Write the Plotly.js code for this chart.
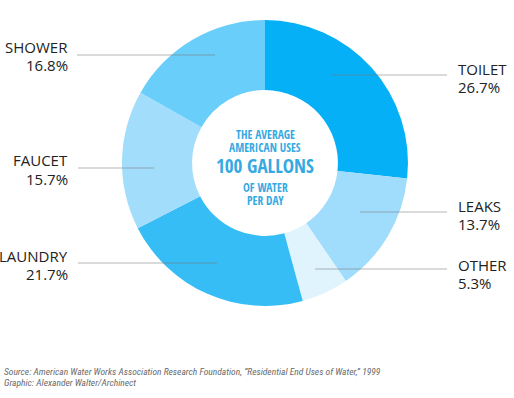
<!DOCTYPE html>
<html>
<head>
<meta charset="utf-8">
<script src="https://cdn.plot.ly/plotly-3.0.1.min.js"></script>
<style>html,body{margin:0;padding:0;background:#fff;}#chart{width:514px;height:398px;}</style>
</head>
<body>
<div id="chart"></div>
<script>
// ---- data ----
const categories = ["TOILET", "LEAKS", "OTHER", "LAUNDRY", "FAUCET", "SHOWER"];
const shares = [26.7, 13.7, 5.3, 21.7, 15.7, 16.8];
const centerLines = ["THE AVERAGE", "AMERICAN USES", "100 GALLONS", "OF WATER", "PER DAY"];
const sourceLines = [
  "Source: American Water Works Association Research Foundation, \u201cResidential End Uses of Water,\u201d 1999",
  "Graphic: Alexander Walter/Archinect"
];

// ---- styles / positions ----
const sliceColors = ["#05b0f6", "#a0dcfb", "#dff4fd", "#36bdf6", "#a2ddfb", "#69cef9"];
const W = 514, H = 398;
const px = x => x / W, py = y => 1 - y / H;
const cx = 265, cy = 163, R = 143;
// label placement: [side, textX, nameCenterY, pctCenterY, lineX0, lineX1, lineY]
const labelPos = {
  TOILET:  ["left", 456, 68, 86.5, 331, 447, 75],
  LEAKS:   ["left", 456, 205, 223, 360, 447, 212],
  OTHER:   ["left", 456, 263.5, 282, 315, 447, 269],
  LAUNDRY: ["right", 70, 255, 273, 78, 217, 263],
  FAUCET:  ["right", 70, 159.5, 177.5, 78, 154, 168],
  SHOWER:  ["right", 70, 46.5, 64.5, 77, 215, 55]
};

const trace = {
  type: "pie",
  labels: categories,
  values: shares,
  sort: false,
  direction: "clockwise",
  rotation: 0,
  hole: 0.51,
  textinfo: "none",
  hoverinfo: "none",
  marker: { colors: sliceColors, line: { width: 0 } },
  domain: { x: [px(cx - R), px(cx + R)], y: [py(cy + R), py(cy - R)] }
};

const shapes = [];
const annotations = [];
const labelFont = { family: "Open Sans, sans-serif", size: 15, color: "#222" };
categories.forEach((c, i) => {
  const p = labelPos[c];
  shapes.push({
    type: "line", xref: "paper", yref: "paper",
    x0: px(p[4]), x1: px(p[5]), y0: py(p[6]), y1: py(p[6]),
    line: { color: "rgba(120,120,120,0.55)", width: 1 }, layer: "above"
  });
  const anchor = p[0] === "left" ? "left" : "right";
  [[c, p[2]], [shares[i].toFixed(1) + "%", p[3]]].forEach(([t, y]) => {
    annotations.push({
      xref: "paper", yref: "paper", x: px(p[1]), y: py(y + 1),
      xanchor: anchor, yanchor: "middle", showarrow: false,
      text: t, font: labelFont
    });
  });
});

const centerFont = "Open Sans Condensed, Roboto Condensed, DejaVu Sans Condensed, sans-serif";
const centerY = [133, 146, 165, 186.5, 199.5];
const centerSize = [11.5, 11.5, 19, 11.5, 11.5];
centerLines.forEach((t, i) => {
  annotations.push({
    xref: "paper", yref: "paper", x: px(cx), y: py(centerY[i] + 1),
    xanchor: "center", yanchor: "middle", showarrow: false,
    text: "<b>" + t + "</b>",
    font: { family: centerFont, size: centerSize[i], color: "#35a9e2" }
  });
});

const sourceY = [370, 381];
sourceLines.forEach((t, i) => {
  annotations.push({
    xref: "paper", yref: "paper", x: px(2), y: py(sourceY[i] + 1),
    xanchor: "left", yanchor: "middle", showarrow: false,
    text: "<i>" + t + "</i>",
    font: { family: "Roboto Condensed, DejaVu Sans Condensed, sans-serif", size: 9.5, color: "#6a6a6a" }
  });
});

const layout = {
  width: W, height: H,
  margin: { l: 0, r: 0, t: 0, b: 0 },
  paper_bgcolor: "#fff",
  showlegend: false,
  shapes: shapes,
  annotations: annotations
};

Plotly.newPlot("chart", [trace], layout, { staticPlot: true, displayModeBar: false });
</script>
</body>
</html>
